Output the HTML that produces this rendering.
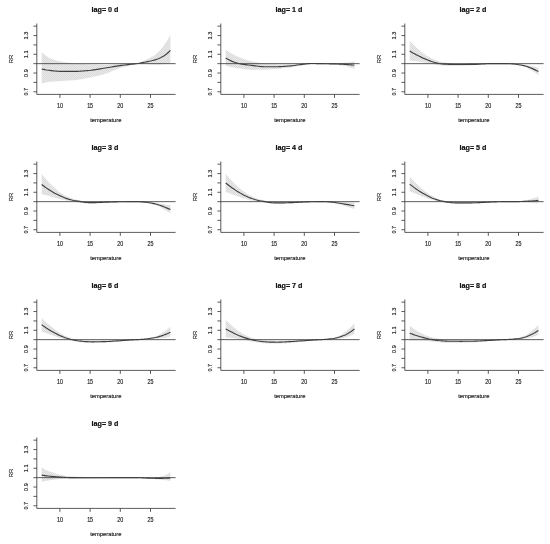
<!DOCTYPE html>
<html><head><meta charset="utf-8"><title>lag-specific RR by temperature</title>
<style>html,body{margin:0;padding:0;background:#fff;}body{width:550px;height:544px;overflow:hidden;font-family:"Liberation Sans",sans-serif;}svg{display:block}</style>
</head><body>
<svg width="550" height="544" viewBox="0 0 550 544" font-family="'Liberation Sans', sans-serif" fill="#1c1c1c">
<rect width="550" height="544" fill="#fff"/>
<defs><pattern id="hatch" width="2" height="2" patternUnits="userSpaceOnUse"><rect width="2" height="2" fill="#e9e9e9"/><rect width="1" height="1" fill="#dadada"/><rect x="1" y="1" width="1" height="1" fill="#dadada"/></pattern></defs>
<g transform="translate(0,0)">
<path d="M41.70,52.00 L43.33,53.55 L44.96,55.01 L46.59,56.30 L48.22,57.35 L49.85,58.13 L51.47,58.81 L53.10,59.43 L54.73,59.98 L56.36,60.48 L57.99,60.91 L59.62,61.29 L61.25,61.62 L62.88,61.90 L64.51,62.16 L66.14,62.39 L67.77,62.60 L69.39,62.79 L71.02,62.96 L72.65,63.12 L74.28,63.27 L75.91,63.41 L77.54,63.55 L79.17,63.68 L80.80,63.80 L82.43,63.91 L84.06,64.01 L85.69,64.10 L87.32,64.19 L88.94,64.27 L90.57,64.36 L92.20,64.44 L93.83,64.53 L95.46,64.61 L97.09,64.68 L98.72,64.75 L100.35,64.80 L101.98,64.85 L103.61,64.88 L105.24,64.90 L106.86,64.89 L108.49,64.86 L110.12,64.80 L111.75,64.71 L113.38,64.62 L115.01,64.52 L116.64,64.42 L118.27,64.33 L119.90,64.25 L121.53,64.17 L123.16,64.09 L124.78,64.01 L126.41,63.93 L128.04,63.87 L129.67,63.81 L131.30,63.77 L132.93,63.74 L134.56,63.72 L136.19,63.68 L137.82,63.53 L139.45,63.01 L141.08,62.20 L142.71,61.29 L144.33,60.43 L145.96,59.68 L147.59,58.92 L149.22,58.13 L150.85,57.28 L152.48,56.38 L154.11,55.42 L155.74,54.36 L157.37,53.11 L159.00,51.55 L160.63,49.62 L162.25,47.47 L163.88,45.22 L165.51,42.89 L167.14,40.38 L168.77,37.71 L170.40,34.90 L170.40,63.30 L168.77,63.49 L167.14,63.68 L165.51,63.85 L163.88,64.00 L162.25,64.16 L160.63,64.33 L159.00,64.46 L157.37,64.50 L155.74,64.46 L154.11,64.37 L152.48,64.27 L150.85,64.19 L149.22,64.14 L147.59,64.09 L145.96,64.05 L144.33,63.99 L142.71,63.91 L141.08,63.81 L139.45,63.72 L137.82,63.66 L136.19,63.68 L134.56,63.98 L132.93,64.47 L131.30,65.01 L129.67,65.49 L128.04,65.90 L126.41,66.31 L124.78,66.73 L123.16,67.16 L121.53,67.61 L119.90,68.09 L118.27,68.61 L116.64,69.22 L115.01,69.90 L113.38,70.61 L111.75,71.34 L110.12,72.05 L108.49,72.72 L106.86,73.32 L105.24,73.83 L103.61,74.30 L101.98,74.75 L100.35,75.18 L98.72,75.59 L97.09,75.98 L95.46,76.36 L93.83,76.72 L92.20,77.06 L90.57,77.40 L88.94,77.72 L87.32,78.04 L85.69,78.35 L84.06,78.66 L82.43,78.96 L80.80,79.24 L79.17,79.51 L77.54,79.75 L75.91,79.96 L74.28,80.13 L72.65,80.27 L71.02,80.40 L69.39,80.51 L67.77,80.62 L66.14,80.72 L64.51,80.82 L62.88,80.92 L61.25,81.03 L59.62,81.13 L57.99,81.23 L56.36,81.32 L54.73,81.42 L53.10,81.52 L51.47,81.65 L49.85,81.80 L48.22,81.99 L46.59,82.27 L44.96,82.63 L43.33,83.05 L41.70,83.50Z" fill="url(#hatch)" stroke="none"/>
<path d="M36.8,23.5 V94.4 H175.6" fill="none" stroke="#333" stroke-width="0.8"/>
<path d="M36.8,91.76 h-3.4 M36.8,82.39 h-3.4 M36.8,73.02 h-3.4 M36.8,63.65 h-3.4 M36.8,54.28 h-3.4 M36.8,44.91 h-3.4 M36.8,35.54 h-3.4 M36.8,26.17 h-3.4 M59.9,94.4 v3.5 M90.1,94.4 v3.5 M120.3,94.4 v3.5 M150.5,94.4 v3.5" fill="none" stroke="#333" stroke-width="0.8"/>
<path d="M36.8,63.65 H175.6" fill="none" stroke="#333" stroke-width="0.8"/>
<path d="M41.70,69.00 L43.33,69.34 L44.96,69.67 L46.59,69.96 L48.22,70.21 L49.85,70.41 L51.47,70.61 L53.10,70.81 L54.73,70.99 L56.36,71.14 L57.99,71.27 L59.62,71.36 L61.25,71.40 L62.88,71.40 L64.51,71.40 L66.14,71.40 L67.77,71.40 L69.39,71.40 L71.02,71.40 L72.65,71.40 L74.28,71.40 L75.91,71.39 L77.54,71.34 L79.17,71.26 L80.80,71.15 L82.43,71.03 L84.06,70.90 L85.69,70.76 L87.32,70.62 L88.94,70.46 L90.57,70.29 L92.20,70.08 L93.83,69.85 L95.46,69.61 L97.09,69.36 L98.72,69.09 L100.35,68.82 L101.98,68.55 L103.61,68.28 L105.24,68.02 L106.86,67.76 L108.49,67.50 L110.12,67.23 L111.75,66.95 L113.38,66.67 L115.01,66.40 L116.64,66.14 L118.27,65.89 L119.90,65.66 L121.53,65.44 L123.16,65.23 L124.78,65.02 L126.41,64.82 L128.04,64.63 L129.67,64.44 L131.30,64.26 L132.93,64.09 L134.56,63.93 L136.19,63.74 L137.82,63.51 L139.45,63.23 L141.08,62.92 L142.71,62.58 L144.33,62.25 L145.96,61.94 L147.59,61.63 L149.22,61.30 L150.85,60.94 L152.48,60.53 L154.11,60.09 L155.74,59.60 L157.37,59.05 L159.00,58.42 L160.63,57.69 L162.25,56.85 L163.88,55.91 L165.51,54.80 L167.14,53.49 L168.77,52.02 L170.40,50.40" fill="none" stroke="#404040" stroke-width="1.15"/>
<text transform="translate(59.9,107.8) scale(0.92,1.1)" font-size="5.8" text-anchor="middle" stroke="#1c1c1c" stroke-width="0.15">10</text>
<text transform="translate(90.1,107.8) scale(0.92,1.1)" font-size="5.8" text-anchor="middle" stroke="#1c1c1c" stroke-width="0.15">15</text>
<text transform="translate(120.3,107.8) scale(0.92,1.1)" font-size="5.8" text-anchor="middle" stroke="#1c1c1c" stroke-width="0.15">20</text>
<text transform="translate(150.5,107.8) scale(0.92,1.1)" font-size="5.8" text-anchor="middle" stroke="#1c1c1c" stroke-width="0.15">25</text>
<text transform="translate(28.0,91.76) rotate(-90) scale(0.96,1.0)" font-size="5.8" text-anchor="middle" stroke="#1c1c1c" stroke-width="0.15">0.7</text>
<text transform="translate(28.0,73.02) rotate(-90) scale(0.96,1.0)" font-size="5.8" text-anchor="middle" stroke="#1c1c1c" stroke-width="0.15">0.9</text>
<text transform="translate(28.0,54.28) rotate(-90) scale(0.96,1.0)" font-size="5.8" text-anchor="middle" stroke="#1c1c1c" stroke-width="0.15">1.1</text>
<text transform="translate(28.0,35.54) rotate(-90) scale(0.96,1.0)" font-size="5.8" text-anchor="middle" stroke="#1c1c1c" stroke-width="0.15">1.3</text>
<text transform="translate(13.4,59.0) rotate(-90) scale(1,1.0)" font-size="5.8" text-anchor="middle" stroke="#1c1c1c" stroke-width="0.15">RR</text>
<text transform="translate(105.8,122.0) scale(1,1.0)" font-size="5.8" text-anchor="middle" stroke="#1c1c1c" stroke-width="0.15">temperature</text>
<text transform="translate(105,11.6) scale(1,1.05)" font-size="7.2" font-weight="bold" text-anchor="middle" fill="#111" stroke="#111" stroke-width="0.2">lag= 0 d</text>
</g>
<g transform="translate(184,0)">
<path d="M41.70,49.70 L43.33,50.80 L44.96,51.86 L46.59,52.88 L48.22,53.84 L49.85,54.75 L51.47,55.59 L53.10,56.38 L54.73,57.09 L56.36,57.74 L57.99,58.36 L59.62,58.94 L61.25,59.49 L62.88,60.00 L64.51,60.47 L66.14,60.90 L67.77,61.29 L69.39,61.66 L71.02,62.02 L72.65,62.36 L74.28,62.68 L75.91,62.97 L77.54,63.22 L79.17,63.44 L80.80,63.61 L82.43,63.76 L84.06,63.89 L85.69,64.02 L87.32,64.14 L88.94,64.23 L90.57,64.31 L92.20,64.37 L93.83,64.40 L95.46,64.43 L97.09,64.45 L98.72,64.46 L100.35,64.48 L101.98,64.49 L103.61,64.50 L105.24,64.50 L106.86,64.49 L108.49,64.46 L110.12,64.41 L111.75,64.34 L113.38,64.26 L115.01,64.17 L116.64,64.08 L118.27,63.98 L119.90,63.86 L121.53,63.69 L123.16,63.52 L124.78,63.36 L126.41,63.24 L128.04,63.20 L129.67,63.24 L131.30,63.34 L132.93,63.46 L134.56,63.57 L136.19,63.64 L137.82,63.65 L139.45,63.62 L141.08,63.58 L142.71,63.52 L144.33,63.45 L145.96,63.37 L147.59,63.30 L149.22,63.23 L150.85,63.17 L152.48,63.12 L154.11,63.06 L155.74,63.00 L157.37,62.94 L159.00,62.86 L160.63,62.76 L162.25,62.61 L163.88,62.41 L165.51,62.18 L167.14,61.91 L168.77,61.61 L170.40,61.30 L170.40,69.00 L168.77,68.36 L167.14,67.76 L165.51,67.20 L163.88,66.70 L162.25,66.27 L160.63,65.91 L159.00,65.63 L157.37,65.40 L155.74,65.19 L154.11,65.00 L152.48,64.83 L150.85,64.68 L149.22,64.53 L147.59,64.37 L145.96,64.21 L144.33,64.05 L142.71,63.91 L141.08,63.79 L139.45,63.70 L137.82,63.66 L136.19,63.65 L134.56,63.67 L132.93,63.71 L131.30,63.76 L129.67,63.83 L128.04,63.90 L126.41,64.01 L124.78,64.18 L123.16,64.39 L121.53,64.64 L119.90,64.90 L118.27,65.16 L116.64,65.43 L115.01,65.75 L113.38,66.10 L111.75,66.46 L110.12,66.81 L108.49,67.14 L106.86,67.43 L105.24,67.66 L103.61,67.86 L101.98,68.04 L100.35,68.21 L98.72,68.36 L97.09,68.51 L95.46,68.65 L93.83,68.78 L92.20,68.92 L90.57,69.07 L88.94,69.22 L87.32,69.37 L85.69,69.50 L84.06,69.60 L82.43,69.67 L80.80,69.70 L79.17,69.70 L77.54,69.70 L75.91,69.70 L74.28,69.70 L72.65,69.70 L71.02,69.70 L69.39,69.70 L67.77,69.70 L66.14,69.66 L64.51,69.57 L62.88,69.43 L61.25,69.25 L59.62,69.04 L57.99,68.81 L56.36,68.59 L54.73,68.36 L53.10,68.13 L51.47,67.86 L49.85,67.57 L48.22,67.26 L46.59,66.92 L44.96,66.56 L43.33,66.19 L41.70,65.80Z" fill="url(#hatch)" stroke="none"/>
<path d="M36.8,23.5 V94.4 H175.6" fill="none" stroke="#333" stroke-width="0.8"/>
<path d="M36.8,91.76 h-3.4 M36.8,82.39 h-3.4 M36.8,73.02 h-3.4 M36.8,63.65 h-3.4 M36.8,54.28 h-3.4 M36.8,44.91 h-3.4 M36.8,35.54 h-3.4 M36.8,26.17 h-3.4 M59.9,94.4 v3.5 M90.1,94.4 v3.5 M120.3,94.4 v3.5 M150.5,94.4 v3.5" fill="none" stroke="#333" stroke-width="0.8"/>
<path d="M36.8,63.65 H175.6" fill="none" stroke="#333" stroke-width="0.8"/>
<path d="M41.70,58.10 L43.33,58.98 L44.96,59.83 L46.59,60.63 L48.22,61.36 L49.85,62.03 L51.47,62.63 L53.10,63.13 L54.73,63.54 L56.36,63.87 L57.99,64.15 L59.62,64.40 L61.25,64.63 L62.88,64.83 L64.51,65.02 L66.14,65.21 L67.77,65.40 L69.39,65.60 L71.02,65.82 L72.65,66.04 L74.28,66.24 L75.91,66.43 L77.54,66.57 L79.17,66.67 L80.80,66.70 L82.43,66.70 L84.06,66.70 L85.69,66.70 L87.32,66.70 L88.94,66.70 L90.57,66.70 L92.20,66.70 L93.83,66.70 L95.46,66.67 L97.09,66.62 L98.72,66.53 L100.35,66.42 L101.98,66.30 L103.61,66.17 L105.24,66.04 L106.86,65.89 L108.49,65.71 L110.12,65.49 L111.75,65.25 L113.38,65.01 L115.01,64.77 L116.64,64.56 L118.27,64.37 L119.90,64.18 L121.53,63.99 L123.16,63.80 L124.78,63.65 L126.41,63.54 L128.04,63.50 L129.67,63.51 L131.30,63.53 L132.93,63.56 L134.56,63.60 L136.19,63.63 L137.82,63.66 L139.45,63.69 L141.08,63.72 L142.71,63.75 L144.33,63.78 L145.96,63.81 L147.59,63.84 L149.22,63.88 L150.85,63.92 L152.48,63.97 L154.11,64.03 L155.74,64.09 L157.37,64.17 L159.00,64.25 L160.63,64.34 L162.25,64.44 L163.88,64.57 L165.51,64.71 L167.14,64.86 L168.77,65.02 L170.40,65.20" fill="none" stroke="#404040" stroke-width="1.15"/>
<text transform="translate(59.9,107.8) scale(0.92,1.1)" font-size="5.8" text-anchor="middle" stroke="#1c1c1c" stroke-width="0.15">10</text>
<text transform="translate(90.1,107.8) scale(0.92,1.1)" font-size="5.8" text-anchor="middle" stroke="#1c1c1c" stroke-width="0.15">15</text>
<text transform="translate(120.3,107.8) scale(0.92,1.1)" font-size="5.8" text-anchor="middle" stroke="#1c1c1c" stroke-width="0.15">20</text>
<text transform="translate(150.5,107.8) scale(0.92,1.1)" font-size="5.8" text-anchor="middle" stroke="#1c1c1c" stroke-width="0.15">25</text>
<text transform="translate(28.0,91.76) rotate(-90) scale(0.96,1.0)" font-size="5.8" text-anchor="middle" stroke="#1c1c1c" stroke-width="0.15">0.7</text>
<text transform="translate(28.0,73.02) rotate(-90) scale(0.96,1.0)" font-size="5.8" text-anchor="middle" stroke="#1c1c1c" stroke-width="0.15">0.9</text>
<text transform="translate(28.0,54.28) rotate(-90) scale(0.96,1.0)" font-size="5.8" text-anchor="middle" stroke="#1c1c1c" stroke-width="0.15">1.1</text>
<text transform="translate(28.0,35.54) rotate(-90) scale(0.96,1.0)" font-size="5.8" text-anchor="middle" stroke="#1c1c1c" stroke-width="0.15">1.3</text>
<text transform="translate(13.4,59.0) rotate(-90) scale(1,1.0)" font-size="5.8" text-anchor="middle" stroke="#1c1c1c" stroke-width="0.15">RR</text>
<text transform="translate(105.8,122.0) scale(1,1.0)" font-size="5.8" text-anchor="middle" stroke="#1c1c1c" stroke-width="0.15">temperature</text>
<text transform="translate(105,11.6) scale(1,1.05)" font-size="7.2" font-weight="bold" text-anchor="middle" fill="#111" stroke="#111" stroke-width="0.2">lag= 1 d</text>
</g>
<g transform="translate(368,0)">
<path d="M41.70,40.70 L43.33,42.39 L44.96,44.04 L46.59,45.65 L48.22,47.20 L49.85,48.74 L51.47,50.24 L53.10,51.65 L54.73,52.92 L56.36,54.09 L57.99,55.17 L59.62,56.18 L61.25,57.11 L62.88,57.99 L64.51,58.82 L66.14,59.57 L67.77,60.22 L69.39,60.82 L71.02,61.37 L72.65,61.81 L74.28,62.11 L75.91,62.38 L77.54,62.62 L79.17,62.84 L80.80,63.02 L82.43,63.18 L84.06,63.30 L85.69,63.38 L87.32,63.42 L88.94,63.45 L90.57,63.48 L92.20,63.50 L93.83,63.52 L95.46,63.54 L97.09,63.56 L98.72,63.58 L100.35,63.59 L101.98,63.59 L103.61,63.60 L105.24,63.60 L106.86,63.59 L108.49,63.57 L110.12,63.55 L111.75,63.51 L113.38,63.48 L115.01,63.44 L116.64,63.40 L118.27,63.37 L119.90,63.34 L121.53,63.31 L123.16,63.30 L124.78,63.30 L126.41,63.33 L128.04,63.38 L129.67,63.44 L131.30,63.51 L132.93,63.57 L134.56,63.62 L136.19,63.65 L137.82,63.64 L139.45,63.60 L141.08,63.55 L142.71,63.51 L144.33,63.51 L145.96,63.60 L147.59,63.75 L149.22,63.92 L150.85,64.08 L152.48,64.26 L154.11,64.47 L155.74,64.69 L157.37,64.94 L159.00,65.23 L160.63,65.55 L162.25,65.87 L163.88,66.19 L165.51,66.51 L167.14,66.84 L168.77,67.17 L170.40,67.50 L170.40,75.20 L168.77,73.93 L167.14,72.74 L165.51,71.62 L163.88,70.58 L162.25,69.63 L160.63,68.70 L159.00,67.84 L157.37,67.12 L155.74,66.56 L154.11,66.11 L152.48,65.72 L150.85,65.37 L149.22,65.04 L147.59,64.72 L145.96,64.42 L144.33,64.18 L142.71,64.01 L141.08,63.86 L139.45,63.73 L137.82,63.66 L136.19,63.65 L134.56,63.66 L132.93,63.68 L131.30,63.71 L129.67,63.75 L128.04,63.79 L126.41,63.83 L124.78,63.88 L123.16,63.93 L121.53,64.00 L119.90,64.10 L118.27,64.21 L116.64,64.34 L115.01,64.47 L113.38,64.61 L111.75,64.75 L110.12,64.88 L108.49,65.00 L106.86,65.10 L105.24,65.19 L103.61,65.26 L101.98,65.34 L100.35,65.41 L98.72,65.48 L97.09,65.55 L95.46,65.61 L93.83,65.67 L92.20,65.72 L90.57,65.76 L88.94,65.78 L87.32,65.80 L85.69,65.80 L84.06,65.79 L82.43,65.77 L80.80,65.74 L79.17,65.70 L77.54,65.65 L75.91,65.59 L74.28,65.53 L72.65,65.43 L71.02,65.22 L69.39,64.93 L67.77,64.61 L66.14,64.28 L64.51,63.87 L62.88,63.46 L61.25,63.10 L59.62,62.84 L57.99,62.63 L56.36,62.45 L54.73,62.26 L53.10,62.03 L51.47,61.79 L49.85,61.55 L48.22,61.34 L46.59,61.15 L44.96,60.99 L43.33,60.83 L41.70,60.70Z" fill="url(#hatch)" stroke="none"/>
<path d="M36.8,23.5 V94.4 H175.6" fill="none" stroke="#333" stroke-width="0.8"/>
<path d="M36.8,91.76 h-3.4 M36.8,82.39 h-3.4 M36.8,73.02 h-3.4 M36.8,63.65 h-3.4 M36.8,54.28 h-3.4 M36.8,44.91 h-3.4 M36.8,35.54 h-3.4 M36.8,26.17 h-3.4 M59.9,94.4 v3.5 M90.1,94.4 v3.5 M120.3,94.4 v3.5 M150.5,94.4 v3.5" fill="none" stroke="#333" stroke-width="0.8"/>
<path d="M36.8,63.65 H175.6" fill="none" stroke="#333" stroke-width="0.8"/>
<path d="M41.70,51.00 L43.33,51.96 L44.96,52.89 L46.59,53.79 L48.22,54.67 L49.85,55.52 L51.47,56.35 L53.10,57.14 L54.73,57.90 L56.36,58.62 L57.99,59.32 L59.62,59.98 L61.25,60.61 L62.88,61.21 L64.51,61.79 L66.14,62.31 L67.77,62.74 L69.39,63.15 L71.02,63.52 L72.65,63.80 L74.28,63.95 L75.91,64.08 L77.54,64.19 L79.17,64.29 L80.80,64.37 L82.43,64.43 L84.06,64.47 L85.69,64.50 L87.32,64.50 L88.94,64.50 L90.57,64.49 L92.20,64.49 L93.83,64.48 L95.46,64.47 L97.09,64.46 L98.72,64.45 L100.35,64.44 L101.98,64.43 L103.61,64.41 L105.24,64.40 L106.86,64.36 L108.49,64.31 L110.12,64.23 L111.75,64.14 L113.38,64.05 L115.01,63.95 L116.64,63.85 L118.27,63.76 L119.90,63.69 L121.53,63.63 L123.16,63.60 L124.78,63.60 L126.41,63.60 L128.04,63.61 L129.67,63.61 L131.30,63.62 L132.93,63.62 L134.56,63.63 L136.19,63.64 L137.82,63.66 L139.45,63.68 L141.08,63.72 L142.71,63.77 L144.33,63.84 L145.96,64.00 L147.59,64.23 L149.22,64.48 L150.85,64.73 L152.48,64.99 L154.11,65.29 L155.74,65.62 L157.37,66.03 L159.00,66.53 L160.63,67.11 L162.25,67.74 L163.88,68.40 L165.51,69.12 L167.14,69.89 L168.77,70.72 L170.40,71.60" fill="none" stroke="#404040" stroke-width="1.15"/>
<text transform="translate(59.9,107.8) scale(0.92,1.1)" font-size="5.8" text-anchor="middle" stroke="#1c1c1c" stroke-width="0.15">10</text>
<text transform="translate(90.1,107.8) scale(0.92,1.1)" font-size="5.8" text-anchor="middle" stroke="#1c1c1c" stroke-width="0.15">15</text>
<text transform="translate(120.3,107.8) scale(0.92,1.1)" font-size="5.8" text-anchor="middle" stroke="#1c1c1c" stroke-width="0.15">20</text>
<text transform="translate(150.5,107.8) scale(0.92,1.1)" font-size="5.8" text-anchor="middle" stroke="#1c1c1c" stroke-width="0.15">25</text>
<text transform="translate(28.0,91.76) rotate(-90) scale(0.96,1.0)" font-size="5.8" text-anchor="middle" stroke="#1c1c1c" stroke-width="0.15">0.7</text>
<text transform="translate(28.0,73.02) rotate(-90) scale(0.96,1.0)" font-size="5.8" text-anchor="middle" stroke="#1c1c1c" stroke-width="0.15">0.9</text>
<text transform="translate(28.0,54.28) rotate(-90) scale(0.96,1.0)" font-size="5.8" text-anchor="middle" stroke="#1c1c1c" stroke-width="0.15">1.1</text>
<text transform="translate(28.0,35.54) rotate(-90) scale(0.96,1.0)" font-size="5.8" text-anchor="middle" stroke="#1c1c1c" stroke-width="0.15">1.3</text>
<text transform="translate(13.4,59.0) rotate(-90) scale(1,1.0)" font-size="5.8" text-anchor="middle" stroke="#1c1c1c" stroke-width="0.15">RR</text>
<text transform="translate(105.8,122.0) scale(1,1.0)" font-size="5.8" text-anchor="middle" stroke="#1c1c1c" stroke-width="0.15">temperature</text>
<text transform="translate(105,11.6) scale(1,1.05)" font-size="7.2" font-weight="bold" text-anchor="middle" fill="#111" stroke="#111" stroke-width="0.2">lag= 2 d</text>
</g>
<g transform="translate(0,138)">
<path d="M41.70,35.80 L43.33,37.90 L44.96,39.91 L46.59,41.83 L48.22,43.65 L49.85,45.38 L51.47,47.03 L53.10,48.60 L54.73,50.09 L56.36,51.52 L57.99,52.89 L59.62,54.15 L61.25,55.26 L62.88,56.26 L64.51,57.18 L66.14,58.01 L67.77,58.75 L69.39,59.43 L71.02,60.05 L72.65,60.61 L74.28,61.10 L75.91,61.56 L77.54,61.98 L79.17,62.34 L80.80,62.64 L82.43,62.92 L84.06,63.17 L85.69,63.35 L87.32,63.44 L88.94,63.51 L90.57,63.57 L92.20,63.60 L93.83,63.60 L95.46,63.59 L97.09,63.58 L98.72,63.56 L100.35,63.54 L101.98,63.53 L103.61,63.51 L105.24,63.50 L106.86,63.49 L108.49,63.48 L110.12,63.46 L111.75,63.45 L113.38,63.44 L115.01,63.43 L116.64,63.42 L118.27,63.41 L119.90,63.41 L121.53,63.40 L123.16,63.40 L124.78,63.40 L126.41,63.42 L128.04,63.46 L129.67,63.50 L131.30,63.55 L132.93,63.59 L134.56,63.63 L136.19,63.65 L137.82,63.65 L139.45,63.63 L141.08,63.62 L142.71,63.60 L144.33,63.61 L145.96,63.73 L147.59,63.91 L149.22,64.11 L150.85,64.29 L152.48,64.47 L154.11,64.67 L155.74,64.89 L157.37,65.14 L159.00,65.46 L160.63,65.79 L162.25,66.10 L163.88,66.34 L165.51,66.57 L167.14,66.77 L168.77,66.95 L170.40,67.10 L170.40,75.50 L168.77,74.33 L167.14,73.21 L165.51,72.16 L163.88,71.17 L162.25,70.24 L160.63,69.33 L159.00,68.48 L157.37,67.73 L155.74,67.14 L154.11,66.63 L152.48,66.19 L150.85,65.79 L149.22,65.43 L147.59,65.09 L145.96,64.78 L144.33,64.51 L142.71,64.27 L141.08,64.02 L139.45,63.80 L137.82,63.67 L136.19,63.65 L134.56,63.66 L132.93,63.68 L131.30,63.71 L129.67,63.75 L128.04,63.79 L126.41,63.83 L124.78,63.88 L123.16,63.92 L121.53,63.98 L119.90,64.05 L118.27,64.13 L116.64,64.21 L115.01,64.30 L113.38,64.40 L111.75,64.50 L110.12,64.60 L108.49,64.70 L106.86,64.79 L105.24,64.89 L103.61,64.99 L101.98,65.10 L100.35,65.23 L98.72,65.35 L97.09,65.46 L95.46,65.54 L93.83,65.59 L92.20,65.60 L90.57,65.60 L88.94,65.60 L87.32,65.60 L85.69,65.57 L84.06,65.37 L82.43,65.06 L80.80,64.74 L79.17,64.47 L77.54,64.22 L75.91,63.96 L74.28,63.71 L72.65,63.45 L71.02,63.21 L69.39,62.96 L67.77,62.70 L66.14,62.41 L64.51,62.10 L62.88,61.77 L61.25,61.42 L59.62,61.04 L57.99,60.62 L56.36,60.18 L54.73,59.72 L53.10,59.25 L51.47,58.75 L49.85,58.26 L48.22,57.79 L46.59,57.36 L44.96,56.95 L43.33,56.56 L41.70,56.20Z" fill="url(#hatch)" stroke="none"/>
<path d="M36.8,23.5 V94.4 H175.6" fill="none" stroke="#333" stroke-width="0.8"/>
<path d="M36.8,91.76 h-3.4 M36.8,82.39 h-3.4 M36.8,73.02 h-3.4 M36.8,63.65 h-3.4 M36.8,54.28 h-3.4 M36.8,44.91 h-3.4 M36.8,35.54 h-3.4 M36.8,26.17 h-3.4 M59.9,94.4 v3.5 M90.1,94.4 v3.5 M120.3,94.4 v3.5 M150.5,94.4 v3.5" fill="none" stroke="#333" stroke-width="0.8"/>
<path d="M36.8,63.65 H175.6" fill="none" stroke="#333" stroke-width="0.8"/>
<path d="M41.70,46.50 L43.33,47.75 L44.96,48.96 L46.59,50.11 L48.22,51.21 L49.85,52.26 L51.47,53.27 L53.10,54.23 L54.73,55.14 L56.36,56.00 L57.99,56.83 L59.62,57.61 L61.25,58.34 L62.88,59.05 L64.51,59.73 L66.14,60.34 L67.77,60.88 L69.39,61.36 L71.02,61.80 L72.65,62.19 L74.28,62.54 L75.91,62.84 L77.54,63.11 L79.17,63.37 L80.80,63.64 L82.43,63.95 L84.06,64.25 L85.69,64.45 L87.32,64.52 L88.94,64.56 L90.57,64.59 L92.20,64.60 L93.83,64.60 L95.46,64.57 L97.09,64.52 L98.72,64.45 L100.35,64.38 L101.98,64.31 L103.61,64.25 L105.24,64.19 L106.86,64.14 L108.49,64.09 L110.12,64.04 L111.75,63.98 L113.38,63.93 L115.01,63.88 L116.64,63.83 L118.27,63.79 L119.90,63.76 L121.53,63.73 L123.16,63.71 L124.78,63.70 L126.41,63.69 L128.04,63.68 L129.67,63.67 L131.30,63.66 L132.93,63.66 L134.56,63.65 L136.19,63.65 L137.82,63.66 L139.45,63.71 L141.08,63.81 L142.71,63.93 L144.33,64.06 L145.96,64.26 L147.59,64.50 L149.22,64.77 L150.85,65.04 L152.48,65.33 L154.11,65.65 L155.74,66.01 L157.37,66.44 L159.00,66.95 L160.63,67.54 L162.25,68.15 L163.88,68.78 L165.51,69.44 L167.14,70.13 L168.77,70.85 L170.40,71.60" fill="none" stroke="#404040" stroke-width="1.15"/>
<text transform="translate(59.9,107.8) scale(0.92,1.1)" font-size="5.8" text-anchor="middle" stroke="#1c1c1c" stroke-width="0.15">10</text>
<text transform="translate(90.1,107.8) scale(0.92,1.1)" font-size="5.8" text-anchor="middle" stroke="#1c1c1c" stroke-width="0.15">15</text>
<text transform="translate(120.3,107.8) scale(0.92,1.1)" font-size="5.8" text-anchor="middle" stroke="#1c1c1c" stroke-width="0.15">20</text>
<text transform="translate(150.5,107.8) scale(0.92,1.1)" font-size="5.8" text-anchor="middle" stroke="#1c1c1c" stroke-width="0.15">25</text>
<text transform="translate(28.0,91.76) rotate(-90) scale(0.96,1.0)" font-size="5.8" text-anchor="middle" stroke="#1c1c1c" stroke-width="0.15">0.7</text>
<text transform="translate(28.0,73.02) rotate(-90) scale(0.96,1.0)" font-size="5.8" text-anchor="middle" stroke="#1c1c1c" stroke-width="0.15">0.9</text>
<text transform="translate(28.0,54.28) rotate(-90) scale(0.96,1.0)" font-size="5.8" text-anchor="middle" stroke="#1c1c1c" stroke-width="0.15">1.1</text>
<text transform="translate(28.0,35.54) rotate(-90) scale(0.96,1.0)" font-size="5.8" text-anchor="middle" stroke="#1c1c1c" stroke-width="0.15">1.3</text>
<text transform="translate(13.4,59.0) rotate(-90) scale(1,1.0)" font-size="5.8" text-anchor="middle" stroke="#1c1c1c" stroke-width="0.15">RR</text>
<text transform="translate(105.8,122.0) scale(1,1.0)" font-size="5.8" text-anchor="middle" stroke="#1c1c1c" stroke-width="0.15">temperature</text>
<text transform="translate(105,11.6) scale(1,1.05)" font-size="7.2" font-weight="bold" text-anchor="middle" fill="#111" stroke="#111" stroke-width="0.2">lag= 3 d</text>
</g>
<g transform="translate(184,138)">
<path d="M41.70,35.80 L43.33,37.82 L44.96,39.75 L46.59,41.59 L48.22,43.33 L49.85,44.98 L51.47,46.55 L53.10,48.04 L54.73,49.47 L56.36,50.86 L57.99,52.19 L59.62,53.43 L61.25,54.57 L62.88,55.64 L64.51,56.65 L66.14,57.56 L67.77,58.37 L69.39,59.11 L71.02,59.78 L72.65,60.38 L74.28,60.91 L75.91,61.39 L77.54,61.82 L79.17,62.21 L80.80,62.58 L82.43,62.95 L84.06,63.29 L85.69,63.53 L87.32,63.65 L88.94,63.74 L90.57,63.81 L92.20,63.86 L93.83,63.89 L95.46,63.90 L97.09,63.90 L98.72,63.90 L100.35,63.90 L101.98,63.90 L103.61,63.90 L105.24,63.90 L106.86,63.89 L108.49,63.86 L110.12,63.82 L111.75,63.78 L113.38,63.74 L115.01,63.70 L116.64,63.66 L118.27,63.61 L119.90,63.57 L121.53,63.53 L123.16,63.50 L124.78,63.50 L126.41,63.51 L128.04,63.53 L129.67,63.56 L131.30,63.59 L132.93,63.62 L134.56,63.64 L136.19,63.65 L137.82,63.65 L139.45,63.62 L141.08,63.57 L142.71,63.53 L144.33,63.50 L145.96,63.51 L147.59,63.54 L149.22,63.61 L150.85,63.69 L152.48,63.78 L154.11,63.88 L155.74,63.96 L157.37,64.04 L159.00,64.12 L160.63,64.20 L162.25,64.27 L163.88,64.33 L165.51,64.38 L167.14,64.43 L168.77,64.47 L170.40,64.50 L170.40,71.00 L168.77,70.48 L167.14,69.97 L165.51,69.46 L163.88,68.97 L162.25,68.47 L160.63,67.98 L159.00,67.49 L157.37,67.03 L155.74,66.61 L154.11,66.19 L152.48,65.77 L150.85,65.38 L149.22,65.01 L147.59,64.69 L145.96,64.42 L144.33,64.22 L142.71,64.04 L141.08,63.87 L139.45,63.74 L137.82,63.66 L136.19,63.65 L134.56,63.67 L132.93,63.71 L131.30,63.76 L129.67,63.83 L128.04,63.90 L126.41,63.98 L124.78,64.06 L123.16,64.15 L121.53,64.28 L119.90,64.44 L118.27,64.60 L116.64,64.76 L115.01,64.90 L113.38,65.01 L111.75,65.12 L110.12,65.22 L108.49,65.32 L106.86,65.41 L105.24,65.49 L103.61,65.57 L101.98,65.66 L100.35,65.74 L98.72,65.82 L97.09,65.87 L95.46,65.90 L93.83,65.89 L92.20,65.86 L90.57,65.81 L88.94,65.74 L87.32,65.65 L85.69,65.53 L84.06,65.26 L82.43,64.90 L80.80,64.55 L79.17,64.26 L77.54,64.00 L75.91,63.75 L74.28,63.51 L72.65,63.26 L71.02,63.02 L69.39,62.78 L67.77,62.51 L66.14,62.18 L64.51,61.78 L62.88,61.34 L61.25,60.86 L59.62,60.36 L57.99,59.82 L56.36,59.24 L54.73,58.65 L53.10,58.08 L51.47,57.50 L49.85,56.91 L48.22,56.32 L46.59,55.72 L44.96,55.12 L43.33,54.51 L41.70,53.90Z" fill="url(#hatch)" stroke="none"/>
<path d="M36.8,23.5 V94.4 H175.6" fill="none" stroke="#333" stroke-width="0.8"/>
<path d="M36.8,91.76 h-3.4 M36.8,82.39 h-3.4 M36.8,73.02 h-3.4 M36.8,63.65 h-3.4 M36.8,54.28 h-3.4 M36.8,44.91 h-3.4 M36.8,35.54 h-3.4 M36.8,26.17 h-3.4 M59.9,94.4 v3.5 M90.1,94.4 v3.5 M120.3,94.4 v3.5 M150.5,94.4 v3.5" fill="none" stroke="#333" stroke-width="0.8"/>
<path d="M36.8,63.65 H175.6" fill="none" stroke="#333" stroke-width="0.8"/>
<path d="M41.70,45.00 L43.33,46.30 L44.96,47.55 L46.59,48.76 L48.22,49.92 L49.85,51.04 L51.47,52.12 L53.10,53.16 L54.73,54.16 L56.36,55.13 L57.99,56.07 L59.62,56.95 L61.25,57.77 L62.88,58.53 L64.51,59.25 L66.14,59.91 L67.77,60.50 L69.39,61.03 L71.02,61.52 L72.65,61.96 L74.28,62.36 L75.91,62.72 L77.54,63.04 L79.17,63.35 L80.80,63.65 L82.43,63.99 L84.06,64.30 L85.69,64.53 L87.32,64.65 L88.94,64.73 L90.57,64.81 L92.20,64.86 L93.83,64.89 L95.46,64.90 L97.09,64.89 L98.72,64.86 L100.35,64.83 L101.98,64.78 L103.61,64.74 L105.24,64.69 L106.86,64.64 L108.49,64.58 L110.12,64.52 L111.75,64.45 L113.38,64.37 L115.01,64.30 L116.64,64.22 L118.27,64.12 L119.90,64.03 L121.53,63.94 L123.16,63.87 L124.78,63.83 L126.41,63.79 L128.04,63.76 L129.67,63.73 L131.30,63.70 L132.93,63.68 L134.56,63.66 L136.19,63.65 L137.82,63.65 L139.45,63.68 L141.08,63.73 L142.71,63.79 L144.33,63.87 L145.96,63.96 L147.59,64.10 L149.22,64.29 L150.85,64.52 L152.48,64.77 L154.11,65.03 L155.74,65.28 L157.37,65.53 L159.00,65.80 L160.63,66.08 L162.25,66.37 L163.88,66.65 L165.51,66.94 L167.14,67.22 L168.77,67.51 L170.40,67.80" fill="none" stroke="#404040" stroke-width="1.15"/>
<text transform="translate(59.9,107.8) scale(0.92,1.1)" font-size="5.8" text-anchor="middle" stroke="#1c1c1c" stroke-width="0.15">10</text>
<text transform="translate(90.1,107.8) scale(0.92,1.1)" font-size="5.8" text-anchor="middle" stroke="#1c1c1c" stroke-width="0.15">15</text>
<text transform="translate(120.3,107.8) scale(0.92,1.1)" font-size="5.8" text-anchor="middle" stroke="#1c1c1c" stroke-width="0.15">20</text>
<text transform="translate(150.5,107.8) scale(0.92,1.1)" font-size="5.8" text-anchor="middle" stroke="#1c1c1c" stroke-width="0.15">25</text>
<text transform="translate(28.0,91.76) rotate(-90) scale(0.96,1.0)" font-size="5.8" text-anchor="middle" stroke="#1c1c1c" stroke-width="0.15">0.7</text>
<text transform="translate(28.0,73.02) rotate(-90) scale(0.96,1.0)" font-size="5.8" text-anchor="middle" stroke="#1c1c1c" stroke-width="0.15">0.9</text>
<text transform="translate(28.0,54.28) rotate(-90) scale(0.96,1.0)" font-size="5.8" text-anchor="middle" stroke="#1c1c1c" stroke-width="0.15">1.1</text>
<text transform="translate(28.0,35.54) rotate(-90) scale(0.96,1.0)" font-size="5.8" text-anchor="middle" stroke="#1c1c1c" stroke-width="0.15">1.3</text>
<text transform="translate(13.4,59.0) rotate(-90) scale(1,1.0)" font-size="5.8" text-anchor="middle" stroke="#1c1c1c" stroke-width="0.15">RR</text>
<text transform="translate(105.8,122.0) scale(1,1.0)" font-size="5.8" text-anchor="middle" stroke="#1c1c1c" stroke-width="0.15">temperature</text>
<text transform="translate(105,11.6) scale(1,1.05)" font-size="7.2" font-weight="bold" text-anchor="middle" fill="#111" stroke="#111" stroke-width="0.2">lag= 4 d</text>
</g>
<g transform="translate(368,138)">
<path d="M41.70,38.80 L43.33,40.56 L44.96,42.26 L46.59,43.91 L48.22,45.50 L49.85,47.05 L51.47,48.56 L53.10,49.99 L54.73,51.35 L56.36,52.66 L57.99,53.92 L59.62,55.08 L61.25,56.15 L62.88,57.13 L64.51,58.04 L66.14,58.89 L67.77,59.67 L69.39,60.42 L71.02,61.13 L72.65,61.73 L74.28,62.17 L75.91,62.53 L77.54,62.84 L79.17,63.09 L80.80,63.30 L82.43,63.48 L84.06,63.64 L85.69,63.76 L87.32,63.83 L88.94,63.89 L90.57,63.94 L92.20,63.97 L93.83,64.00 L95.46,64.00 L97.09,64.00 L98.72,64.00 L100.35,64.00 L101.98,64.00 L103.61,64.00 L105.24,64.00 L106.86,63.99 L108.49,63.97 L110.12,63.94 L111.75,63.91 L113.38,63.87 L115.01,63.82 L116.64,63.78 L118.27,63.74 L119.90,63.70 L121.53,63.67 L123.16,63.62 L124.78,63.58 L126.41,63.54 L128.04,63.51 L129.67,63.50 L131.30,63.51 L132.93,63.56 L134.56,63.61 L136.19,63.64 L137.82,63.65 L139.45,63.63 L141.08,63.60 L142.71,63.55 L144.33,63.48 L145.96,63.41 L147.59,63.33 L149.22,63.24 L150.85,63.14 L152.48,62.99 L154.11,62.80 L155.74,62.56 L157.37,62.29 L159.00,61.99 L160.63,61.67 L162.25,61.29 L163.88,60.84 L165.51,60.33 L167.14,59.76 L168.77,59.15 L170.40,58.50 L170.40,64.80 L168.77,64.74 L167.14,64.68 L165.51,64.61 L163.88,64.55 L162.25,64.49 L160.63,64.42 L159.00,64.36 L157.37,64.29 L155.74,64.22 L154.11,64.15 L152.48,64.09 L150.85,64.03 L149.22,63.97 L147.59,63.92 L145.96,63.86 L144.33,63.80 L142.71,63.75 L141.08,63.70 L139.45,63.67 L137.82,63.65 L136.19,63.66 L134.56,63.71 L132.93,63.81 L131.30,63.92 L129.67,64.02 L128.04,64.14 L126.41,64.27 L124.78,64.41 L123.16,64.55 L121.53,64.69 L119.90,64.81 L118.27,64.92 L116.64,65.04 L115.01,65.15 L113.38,65.27 L111.75,65.37 L110.12,65.47 L108.49,65.56 L106.86,65.63 L105.24,65.69 L103.61,65.74 L101.98,65.79 L100.35,65.83 L98.72,65.86 L97.09,65.89 L95.46,65.90 L93.83,65.90 L92.20,65.89 L90.57,65.87 L88.94,65.85 L87.32,65.82 L85.69,65.77 L84.06,65.66 L82.43,65.49 L80.80,65.30 L79.17,65.09 L77.54,64.81 L75.91,64.48 L74.28,64.14 L72.65,63.81 L71.02,63.46 L69.39,63.11 L67.77,62.73 L66.14,62.35 L64.51,61.95 L62.88,61.53 L61.25,61.07 L59.62,60.55 L57.99,59.95 L56.36,59.32 L54.73,58.67 L53.10,58.03 L51.47,57.37 L49.85,56.70 L48.22,56.03 L46.59,55.36 L44.96,54.68 L43.33,53.99 L41.70,53.30Z" fill="url(#hatch)" stroke="none"/>
<path d="M36.8,23.5 V94.4 H175.6" fill="none" stroke="#333" stroke-width="0.8"/>
<path d="M36.8,91.76 h-3.4 M36.8,82.39 h-3.4 M36.8,73.02 h-3.4 M36.8,63.65 h-3.4 M36.8,54.28 h-3.4 M36.8,44.91 h-3.4 M36.8,35.54 h-3.4 M36.8,26.17 h-3.4 M59.9,94.4 v3.5 M90.1,94.4 v3.5 M120.3,94.4 v3.5 M150.5,94.4 v3.5" fill="none" stroke="#333" stroke-width="0.8"/>
<path d="M36.8,63.65 H175.6" fill="none" stroke="#333" stroke-width="0.8"/>
<path d="M41.70,46.10 L43.33,47.41 L44.96,48.66 L46.59,49.87 L48.22,51.02 L49.85,52.12 L51.47,53.17 L53.10,54.18 L54.73,55.15 L56.36,56.10 L57.99,57.01 L59.62,57.86 L61.25,58.66 L62.88,59.43 L64.51,60.16 L66.14,60.82 L67.77,61.39 L69.39,61.90 L71.02,62.36 L72.65,62.78 L74.28,63.15 L75.91,63.50 L77.54,63.82 L79.17,64.09 L80.80,64.30 L82.43,64.49 L84.06,64.66 L85.69,64.77 L87.32,64.82 L88.94,64.85 L90.57,64.87 L92.20,64.89 L93.83,64.90 L95.46,64.90 L97.09,64.89 L98.72,64.88 L100.35,64.87 L101.98,64.84 L103.61,64.82 L105.24,64.80 L106.86,64.76 L108.49,64.71 L110.12,64.65 L111.75,64.58 L113.38,64.51 L115.01,64.43 L116.64,64.35 L118.27,64.28 L119.90,64.20 L121.53,64.13 L123.16,64.05 L124.78,63.96 L126.41,63.88 L128.04,63.81 L129.67,63.76 L131.30,63.72 L132.93,63.70 L134.56,63.67 L136.19,63.66 L137.82,63.65 L139.45,63.64 L141.08,63.63 L142.71,63.63 L144.33,63.62 L145.96,63.62 L147.59,63.61 L149.22,63.61 L150.85,63.59 L152.48,63.55 L154.11,63.49 L155.74,63.42 L157.37,63.34 L159.00,63.25 L160.63,63.17 L162.25,63.07 L163.88,62.96 L165.51,62.83 L167.14,62.70 L168.77,62.55 L170.40,62.40" fill="none" stroke="#404040" stroke-width="1.15"/>
<text transform="translate(59.9,107.8) scale(0.92,1.1)" font-size="5.8" text-anchor="middle" stroke="#1c1c1c" stroke-width="0.15">10</text>
<text transform="translate(90.1,107.8) scale(0.92,1.1)" font-size="5.8" text-anchor="middle" stroke="#1c1c1c" stroke-width="0.15">15</text>
<text transform="translate(120.3,107.8) scale(0.92,1.1)" font-size="5.8" text-anchor="middle" stroke="#1c1c1c" stroke-width="0.15">20</text>
<text transform="translate(150.5,107.8) scale(0.92,1.1)" font-size="5.8" text-anchor="middle" stroke="#1c1c1c" stroke-width="0.15">25</text>
<text transform="translate(28.0,91.76) rotate(-90) scale(0.96,1.0)" font-size="5.8" text-anchor="middle" stroke="#1c1c1c" stroke-width="0.15">0.7</text>
<text transform="translate(28.0,73.02) rotate(-90) scale(0.96,1.0)" font-size="5.8" text-anchor="middle" stroke="#1c1c1c" stroke-width="0.15">0.9</text>
<text transform="translate(28.0,54.28) rotate(-90) scale(0.96,1.0)" font-size="5.8" text-anchor="middle" stroke="#1c1c1c" stroke-width="0.15">1.1</text>
<text transform="translate(28.0,35.54) rotate(-90) scale(0.96,1.0)" font-size="5.8" text-anchor="middle" stroke="#1c1c1c" stroke-width="0.15">1.3</text>
<text transform="translate(13.4,59.0) rotate(-90) scale(1,1.0)" font-size="5.8" text-anchor="middle" stroke="#1c1c1c" stroke-width="0.15">RR</text>
<text transform="translate(105.8,122.0) scale(1,1.0)" font-size="5.8" text-anchor="middle" stroke="#1c1c1c" stroke-width="0.15">temperature</text>
<text transform="translate(105,11.6) scale(1,1.05)" font-size="7.2" font-weight="bold" text-anchor="middle" fill="#111" stroke="#111" stroke-width="0.2">lag= 5 d</text>
</g>
<g transform="translate(0,276)">
<path d="M41.70,42.00 L43.33,43.60 L44.96,45.15 L46.59,46.64 L48.22,48.07 L49.85,49.46 L51.47,50.80 L53.10,52.08 L54.73,53.33 L56.36,54.55 L57.99,55.74 L59.62,56.84 L61.25,57.81 L62.88,58.70 L64.51,59.52 L66.14,60.26 L67.77,60.92 L69.39,61.53 L71.02,62.08 L72.65,62.56 L74.28,62.96 L75.91,63.32 L77.54,63.64 L79.17,63.90 L80.80,64.09 L82.43,64.25 L84.06,64.38 L85.69,64.47 L87.32,64.52 L88.94,64.56 L90.57,64.58 L92.20,64.60 L93.83,64.60 L95.46,64.59 L97.09,64.58 L98.72,64.57 L100.35,64.56 L101.98,64.54 L103.61,64.52 L105.24,64.50 L106.86,64.47 L108.49,64.44 L110.12,64.40 L111.75,64.36 L113.38,64.31 L115.01,64.26 L116.64,64.21 L118.27,64.16 L119.90,64.10 L121.53,64.04 L123.16,63.97 L124.78,63.88 L126.41,63.81 L128.04,63.74 L129.67,63.70 L131.30,63.69 L132.93,63.68 L134.56,63.67 L136.19,63.66 L137.82,63.62 L139.45,63.48 L141.08,63.27 L142.71,63.04 L144.33,62.81 L145.96,62.56 L147.59,62.28 L149.22,61.96 L150.85,61.61 L152.48,61.23 L154.11,60.79 L155.74,60.27 L157.37,59.65 L159.00,58.85 L160.63,57.92 L162.25,56.91 L163.88,55.86 L165.51,54.72 L167.14,53.50 L168.77,52.19 L170.40,50.80 L170.40,60.70 L168.77,61.05 L167.14,61.37 L165.51,61.65 L163.88,61.88 L162.25,62.07 L160.63,62.20 L159.00,62.32 L157.37,62.44 L155.74,62.56 L154.11,62.69 L152.48,62.81 L150.85,62.94 L149.22,63.06 L147.59,63.19 L145.96,63.32 L144.33,63.44 L142.71,63.51 L141.08,63.55 L139.45,63.58 L137.82,63.62 L136.19,63.69 L134.56,63.82 L132.93,63.98 L131.30,64.16 L129.67,64.33 L128.04,64.51 L126.41,64.69 L124.78,64.88 L123.16,65.06 L121.53,65.24 L119.90,65.41 L118.27,65.57 L116.64,65.74 L115.01,65.91 L113.38,66.08 L111.75,66.23 L110.12,66.38 L108.49,66.50 L106.86,66.61 L105.24,66.69 L103.61,66.75 L101.98,66.81 L100.35,66.87 L98.72,66.91 L97.09,66.95 L95.46,66.98 L93.83,67.00 L92.20,67.00 L90.57,66.96 L88.94,66.91 L87.32,66.84 L85.69,66.76 L84.06,66.63 L82.43,66.47 L80.80,66.29 L79.17,66.10 L77.54,65.87 L75.91,65.61 L74.28,65.32 L72.65,65.02 L71.02,64.68 L69.39,64.31 L67.77,63.93 L66.14,63.56 L64.51,63.18 L62.88,62.78 L61.25,62.35 L59.62,61.87 L57.99,61.33 L56.36,60.74 L54.73,60.15 L53.10,59.58 L51.47,58.99 L49.85,58.40 L48.22,57.81 L46.59,57.23 L44.96,56.65 L43.33,56.08 L41.70,55.50Z" fill="url(#hatch)" stroke="none"/>
<path d="M36.8,23.5 V94.4 H175.6" fill="none" stroke="#333" stroke-width="0.8"/>
<path d="M36.8,91.76 h-3.4 M36.8,82.39 h-3.4 M36.8,73.02 h-3.4 M36.8,63.65 h-3.4 M36.8,54.28 h-3.4 M36.8,44.91 h-3.4 M36.8,35.54 h-3.4 M36.8,26.17 h-3.4 M59.9,94.4 v3.5 M90.1,94.4 v3.5 M120.3,94.4 v3.5 M150.5,94.4 v3.5" fill="none" stroke="#333" stroke-width="0.8"/>
<path d="M36.8,63.65 H175.6" fill="none" stroke="#333" stroke-width="0.8"/>
<path d="M41.70,48.70 L43.33,49.90 L44.96,51.05 L46.59,52.15 L48.22,53.20 L49.85,54.19 L51.47,55.14 L53.10,56.05 L54.73,56.93 L56.36,57.79 L57.99,58.63 L59.62,59.41 L61.25,60.14 L62.88,60.83 L64.51,61.47 L66.14,62.06 L67.77,62.57 L69.39,63.02 L71.02,63.44 L72.65,63.81 L74.28,64.13 L75.91,64.44 L77.54,64.72 L79.17,64.95 L80.80,65.14 L82.43,65.30 L84.06,65.45 L85.69,65.56 L87.32,65.64 L88.94,65.71 L90.57,65.76 L92.20,65.80 L93.83,65.80 L95.46,65.79 L97.09,65.77 L98.72,65.74 L100.35,65.71 L101.98,65.67 L103.61,65.64 L105.24,65.59 L106.86,65.54 L108.49,65.46 L110.12,65.37 L111.75,65.27 L113.38,65.16 L115.01,65.05 L116.64,64.93 L118.27,64.82 L119.90,64.71 L121.53,64.60 L123.16,64.48 L124.78,64.36 L126.41,64.24 L128.04,64.12 L129.67,64.02 L131.30,63.93 L132.93,63.85 L134.56,63.77 L136.19,63.69 L137.82,63.61 L139.45,63.52 L141.08,63.43 L142.71,63.32 L144.33,63.18 L145.96,62.98 L147.59,62.75 L149.22,62.51 L150.85,62.28 L152.48,62.03 L154.11,61.76 L155.74,61.46 L157.37,61.10 L159.00,60.66 L160.63,60.17 L162.25,59.62 L163.88,59.05 L165.51,58.41 L167.14,57.73 L168.77,56.99 L170.40,56.20" fill="none" stroke="#404040" stroke-width="1.15"/>
<text transform="translate(59.9,107.8) scale(0.92,1.1)" font-size="5.8" text-anchor="middle" stroke="#1c1c1c" stroke-width="0.15">10</text>
<text transform="translate(90.1,107.8) scale(0.92,1.1)" font-size="5.8" text-anchor="middle" stroke="#1c1c1c" stroke-width="0.15">15</text>
<text transform="translate(120.3,107.8) scale(0.92,1.1)" font-size="5.8" text-anchor="middle" stroke="#1c1c1c" stroke-width="0.15">20</text>
<text transform="translate(150.5,107.8) scale(0.92,1.1)" font-size="5.8" text-anchor="middle" stroke="#1c1c1c" stroke-width="0.15">25</text>
<text transform="translate(28.0,91.76) rotate(-90) scale(0.96,1.0)" font-size="5.8" text-anchor="middle" stroke="#1c1c1c" stroke-width="0.15">0.7</text>
<text transform="translate(28.0,73.02) rotate(-90) scale(0.96,1.0)" font-size="5.8" text-anchor="middle" stroke="#1c1c1c" stroke-width="0.15">0.9</text>
<text transform="translate(28.0,54.28) rotate(-90) scale(0.96,1.0)" font-size="5.8" text-anchor="middle" stroke="#1c1c1c" stroke-width="0.15">1.1</text>
<text transform="translate(28.0,35.54) rotate(-90) scale(0.96,1.0)" font-size="5.8" text-anchor="middle" stroke="#1c1c1c" stroke-width="0.15">1.3</text>
<text transform="translate(13.4,59.0) rotate(-90) scale(1,1.0)" font-size="5.8" text-anchor="middle" stroke="#1c1c1c" stroke-width="0.15">RR</text>
<text transform="translate(105.8,122.0) scale(1,1.0)" font-size="5.8" text-anchor="middle" stroke="#1c1c1c" stroke-width="0.15">temperature</text>
<text transform="translate(105,11.6) scale(1,1.05)" font-size="7.2" font-weight="bold" text-anchor="middle" fill="#111" stroke="#111" stroke-width="0.2">lag= 6 d</text>
</g>
<g transform="translate(184,276)">
<path d="M41.70,43.90 L43.33,45.50 L44.96,47.05 L46.59,48.54 L48.22,49.98 L49.85,51.39 L51.47,52.76 L53.10,54.04 L54.73,55.19 L56.36,56.25 L57.99,57.23 L59.62,58.14 L61.25,58.98 L62.88,59.79 L64.51,60.55 L66.14,61.22 L67.77,61.79 L69.39,62.29 L71.02,62.73 L72.65,63.11 L74.28,63.42 L75.91,63.70 L77.54,63.93 L79.17,64.12 L80.80,64.27 L82.43,64.39 L84.06,64.50 L85.69,64.58 L87.32,64.62 L88.94,64.66 L90.57,64.68 L92.20,64.70 L93.83,64.70 L95.46,64.69 L97.09,64.69 L98.72,64.67 L100.35,64.66 L101.98,64.64 L103.61,64.62 L105.24,64.60 L106.86,64.57 L108.49,64.53 L110.12,64.48 L111.75,64.42 L113.38,64.36 L115.01,64.30 L116.64,64.23 L118.27,64.17 L119.90,64.10 L121.53,64.04 L123.16,63.96 L124.78,63.88 L126.41,63.80 L128.04,63.74 L129.67,63.70 L131.30,63.69 L132.93,63.68 L134.56,63.67 L136.19,63.66 L137.82,63.62 L139.45,63.45 L141.08,63.21 L142.71,62.94 L144.33,62.70 L145.96,62.44 L147.59,62.14 L149.22,61.79 L150.85,61.36 L152.48,60.81 L154.11,60.14 L155.74,59.38 L157.37,58.53 L159.00,57.49 L160.63,56.30 L162.25,55.02 L163.88,53.68 L165.51,52.22 L167.14,50.65 L168.77,48.98 L170.40,47.20 L170.40,58.10 L168.77,58.86 L167.14,59.56 L165.51,60.18 L163.88,60.72 L162.25,61.17 L160.63,61.55 L159.00,61.88 L157.37,62.16 L155.74,62.42 L154.11,62.65 L152.48,62.85 L150.85,63.03 L149.22,63.16 L147.59,63.27 L145.96,63.37 L144.33,63.45 L142.71,63.51 L141.08,63.55 L139.45,63.58 L137.82,63.62 L136.19,63.69 L134.56,63.82 L132.93,63.98 L131.30,64.16 L129.67,64.33 L128.04,64.50 L126.41,64.68 L124.78,64.86 L123.16,65.05 L121.53,65.23 L119.90,65.41 L118.27,65.60 L116.64,65.79 L115.01,65.99 L113.38,66.19 L111.75,66.38 L110.12,66.56 L108.49,66.73 L106.86,66.87 L105.24,66.99 L103.61,67.08 L101.98,67.18 L100.35,67.27 L98.72,67.35 L97.09,67.42 L95.46,67.47 L93.83,67.50 L92.20,67.50 L90.57,67.50 L88.94,67.50 L87.32,67.50 L85.69,67.49 L84.06,67.44 L82.43,67.36 L80.80,67.25 L79.17,67.14 L77.54,66.99 L75.91,66.80 L74.28,66.59 L72.65,66.36 L71.02,66.10 L69.39,65.80 L67.77,65.50 L66.14,65.21 L64.51,64.91 L62.88,64.61 L61.25,64.31 L59.62,63.98 L57.99,63.63 L56.36,63.29 L54.73,62.97 L53.10,62.71 L51.47,62.47 L49.85,62.25 L48.22,62.04 L46.59,61.84 L44.96,61.65 L43.33,61.47 L41.70,61.30Z" fill="url(#hatch)" stroke="none"/>
<path d="M36.8,23.5 V94.4 H175.6" fill="none" stroke="#333" stroke-width="0.8"/>
<path d="M36.8,91.76 h-3.4 M36.8,82.39 h-3.4 M36.8,73.02 h-3.4 M36.8,63.65 h-3.4 M36.8,54.28 h-3.4 M36.8,44.91 h-3.4 M36.8,35.54 h-3.4 M36.8,26.17 h-3.4 M59.9,94.4 v3.5 M90.1,94.4 v3.5 M120.3,94.4 v3.5 M150.5,94.4 v3.5" fill="none" stroke="#333" stroke-width="0.8"/>
<path d="M36.8,63.65 H175.6" fill="none" stroke="#333" stroke-width="0.8"/>
<path d="M41.70,53.00 L43.33,53.86 L44.96,54.71 L46.59,55.54 L48.22,56.36 L49.85,57.18 L51.47,58.00 L53.10,58.77 L54.73,59.48 L56.36,60.14 L57.99,60.76 L59.62,61.34 L61.25,61.88 L62.88,62.40 L64.51,62.89 L66.14,63.33 L67.77,63.73 L69.39,64.10 L71.02,64.44 L72.65,64.75 L74.28,65.00 L75.91,65.24 L77.54,65.45 L79.17,65.63 L80.80,65.77 L82.43,65.89 L84.06,66.00 L85.69,66.07 L87.32,66.12 L88.94,66.16 L90.57,66.18 L92.20,66.20 L93.83,66.20 L95.46,66.17 L97.09,66.11 L98.72,66.04 L100.35,65.96 L101.98,65.87 L103.61,65.77 L105.24,65.69 L106.86,65.60 L108.49,65.50 L110.12,65.40 L111.75,65.29 L113.38,65.17 L115.01,65.05 L116.64,64.94 L118.27,64.82 L119.90,64.71 L121.53,64.59 L123.16,64.47 L124.78,64.35 L126.41,64.23 L128.04,64.12 L129.67,64.02 L131.30,63.93 L132.93,63.85 L134.56,63.78 L136.19,63.70 L137.82,63.60 L139.45,63.49 L141.08,63.36 L142.71,63.23 L144.33,63.08 L145.96,62.92 L147.59,62.74 L149.22,62.52 L150.85,62.25 L152.48,61.88 L154.11,61.44 L155.74,60.94 L157.37,60.41 L159.00,59.83 L160.63,59.16 L162.25,58.42 L163.88,57.58 L165.51,56.60 L167.14,55.51 L168.77,54.30 L170.40,53.00" fill="none" stroke="#404040" stroke-width="1.15"/>
<text transform="translate(59.9,107.8) scale(0.92,1.1)" font-size="5.8" text-anchor="middle" stroke="#1c1c1c" stroke-width="0.15">10</text>
<text transform="translate(90.1,107.8) scale(0.92,1.1)" font-size="5.8" text-anchor="middle" stroke="#1c1c1c" stroke-width="0.15">15</text>
<text transform="translate(120.3,107.8) scale(0.92,1.1)" font-size="5.8" text-anchor="middle" stroke="#1c1c1c" stroke-width="0.15">20</text>
<text transform="translate(150.5,107.8) scale(0.92,1.1)" font-size="5.8" text-anchor="middle" stroke="#1c1c1c" stroke-width="0.15">25</text>
<text transform="translate(28.0,91.76) rotate(-90) scale(0.96,1.0)" font-size="5.8" text-anchor="middle" stroke="#1c1c1c" stroke-width="0.15">0.7</text>
<text transform="translate(28.0,73.02) rotate(-90) scale(0.96,1.0)" font-size="5.8" text-anchor="middle" stroke="#1c1c1c" stroke-width="0.15">0.9</text>
<text transform="translate(28.0,54.28) rotate(-90) scale(0.96,1.0)" font-size="5.8" text-anchor="middle" stroke="#1c1c1c" stroke-width="0.15">1.1</text>
<text transform="translate(28.0,35.54) rotate(-90) scale(0.96,1.0)" font-size="5.8" text-anchor="middle" stroke="#1c1c1c" stroke-width="0.15">1.3</text>
<text transform="translate(13.4,59.0) rotate(-90) scale(1,1.0)" font-size="5.8" text-anchor="middle" stroke="#1c1c1c" stroke-width="0.15">RR</text>
<text transform="translate(105.8,122.0) scale(1,1.0)" font-size="5.8" text-anchor="middle" stroke="#1c1c1c" stroke-width="0.15">temperature</text>
<text transform="translate(105,11.6) scale(1,1.05)" font-size="7.2" font-weight="bold" text-anchor="middle" fill="#111" stroke="#111" stroke-width="0.2">lag= 7 d</text>
</g>
<g transform="translate(368,276)">
<path d="M41.70,49.70 L43.33,50.99 L44.96,52.21 L46.59,53.35 L48.22,54.40 L49.85,55.37 L51.47,56.27 L53.10,57.12 L54.73,57.91 L56.36,58.67 L57.99,59.39 L59.62,60.04 L61.25,60.57 L62.88,61.01 L64.51,61.41 L66.14,61.77 L67.77,62.12 L69.39,62.47 L71.02,62.79 L72.65,63.07 L74.28,63.29 L75.91,63.48 L77.54,63.65 L79.17,63.77 L80.80,63.82 L82.43,63.86 L84.06,63.89 L85.69,63.91 L87.32,63.93 L88.94,63.95 L90.57,63.97 L92.20,63.99 L93.83,64.01 L95.46,64.05 L97.09,64.08 L98.72,64.12 L100.35,64.15 L101.98,64.18 L103.61,64.19 L105.24,64.20 L106.86,64.19 L108.49,64.17 L110.12,64.15 L111.75,64.11 L113.38,64.07 L115.01,64.03 L116.64,63.99 L118.27,63.94 L119.90,63.90 L121.53,63.85 L123.16,63.79 L124.78,63.73 L126.41,63.67 L128.04,63.62 L129.67,63.60 L131.30,63.61 L132.93,63.62 L134.56,63.64 L136.19,63.65 L137.82,63.58 L139.45,63.43 L141.08,63.24 L142.71,63.03 L144.33,62.84 L145.96,62.61 L147.59,62.36 L149.22,62.06 L150.85,61.71 L152.48,61.27 L154.11,60.74 L155.74,60.12 L157.37,59.38 L159.00,58.39 L160.63,57.22 L162.25,55.99 L163.88,54.75 L165.51,53.44 L167.14,52.07 L168.77,50.62 L170.40,49.10 L170.40,58.70 L168.77,59.41 L167.14,60.06 L165.51,60.64 L163.88,61.14 L162.25,61.55 L160.63,61.91 L159.00,62.22 L157.37,62.48 L155.74,62.69 L154.11,62.87 L152.48,63.02 L150.85,63.15 L149.22,63.24 L147.59,63.33 L145.96,63.40 L144.33,63.46 L142.71,63.51 L141.08,63.54 L139.45,63.57 L137.82,63.60 L136.19,63.64 L134.56,63.74 L132.93,63.89 L131.30,64.07 L129.67,64.23 L128.04,64.38 L126.41,64.53 L124.78,64.67 L123.16,64.82 L121.53,64.96 L119.90,65.11 L118.27,65.26 L116.64,65.42 L115.01,65.58 L113.38,65.74 L111.75,65.90 L110.12,66.05 L108.49,66.18 L106.86,66.29 L105.24,66.39 L103.61,66.47 L101.98,66.54 L100.35,66.62 L98.72,66.68 L97.09,66.74 L95.46,66.78 L93.83,66.80 L92.20,66.80 L90.57,66.80 L88.94,66.80 L87.32,66.80 L85.69,66.80 L84.06,66.80 L82.43,66.80 L80.80,66.80 L79.17,66.79 L77.54,66.74 L75.91,66.64 L74.28,66.54 L72.65,66.44 L71.02,66.33 L69.39,66.20 L67.77,66.05 L66.14,65.89 L64.51,65.68 L62.88,65.47 L61.25,65.26 L59.62,65.08 L57.99,64.89 L56.36,64.72 L54.73,64.62 L53.10,64.57 L51.47,64.54 L49.85,64.51 L48.22,64.50 L46.59,64.50 L44.96,64.50 L43.33,64.50 L41.70,64.50Z" fill="url(#hatch)" stroke="none"/>
<path d="M36.8,23.5 V94.4 H175.6" fill="none" stroke="#333" stroke-width="0.8"/>
<path d="M36.8,91.76 h-3.4 M36.8,82.39 h-3.4 M36.8,73.02 h-3.4 M36.8,63.65 h-3.4 M36.8,54.28 h-3.4 M36.8,44.91 h-3.4 M36.8,35.54 h-3.4 M36.8,26.17 h-3.4 M59.9,94.4 v3.5 M90.1,94.4 v3.5 M120.3,94.4 v3.5 M150.5,94.4 v3.5" fill="none" stroke="#333" stroke-width="0.8"/>
<path d="M36.8,63.65 H175.6" fill="none" stroke="#333" stroke-width="0.8"/>
<path d="M41.70,57.20 L43.33,57.81 L44.96,58.40 L46.59,58.97 L48.22,59.50 L49.85,60.01 L51.47,60.50 L53.10,60.97 L54.73,61.42 L56.36,61.86 L57.99,62.28 L59.62,62.67 L61.25,63.01 L62.88,63.31 L64.51,63.59 L66.14,63.84 L67.77,64.08 L69.39,64.31 L71.02,64.53 L72.65,64.71 L74.28,64.86 L75.91,64.99 L77.54,65.10 L79.17,65.18 L80.80,65.21 L82.43,65.23 L84.06,65.25 L85.69,65.27 L87.32,65.28 L88.94,65.29 L90.57,65.30 L92.20,65.30 L93.83,65.30 L95.46,65.29 L97.09,65.29 L98.72,65.27 L100.35,65.26 L101.98,65.24 L103.61,65.22 L105.24,65.20 L106.86,65.16 L108.49,65.11 L110.12,65.04 L111.75,64.96 L113.38,64.88 L115.01,64.78 L116.64,64.69 L118.27,64.60 L119.90,64.51 L121.53,64.41 L123.16,64.31 L124.78,64.21 L126.41,64.10 L128.04,64.00 L129.67,63.92 L131.30,63.84 L132.93,63.78 L134.56,63.71 L136.19,63.64 L137.82,63.57 L139.45,63.50 L141.08,63.41 L142.71,63.32 L144.33,63.20 L145.96,63.06 L147.59,62.89 L149.22,62.70 L150.85,62.48 L152.48,62.21 L154.11,61.88 L155.74,61.50 L157.37,61.04 L159.00,60.45 L160.63,59.76 L162.25,59.00 L163.88,58.23 L165.51,57.39 L167.14,56.48 L168.77,55.52 L170.40,54.50" fill="none" stroke="#404040" stroke-width="1.15"/>
<text transform="translate(59.9,107.8) scale(0.92,1.1)" font-size="5.8" text-anchor="middle" stroke="#1c1c1c" stroke-width="0.15">10</text>
<text transform="translate(90.1,107.8) scale(0.92,1.1)" font-size="5.8" text-anchor="middle" stroke="#1c1c1c" stroke-width="0.15">15</text>
<text transform="translate(120.3,107.8) scale(0.92,1.1)" font-size="5.8" text-anchor="middle" stroke="#1c1c1c" stroke-width="0.15">20</text>
<text transform="translate(150.5,107.8) scale(0.92,1.1)" font-size="5.8" text-anchor="middle" stroke="#1c1c1c" stroke-width="0.15">25</text>
<text transform="translate(28.0,91.76) rotate(-90) scale(0.96,1.0)" font-size="5.8" text-anchor="middle" stroke="#1c1c1c" stroke-width="0.15">0.7</text>
<text transform="translate(28.0,73.02) rotate(-90) scale(0.96,1.0)" font-size="5.8" text-anchor="middle" stroke="#1c1c1c" stroke-width="0.15">0.9</text>
<text transform="translate(28.0,54.28) rotate(-90) scale(0.96,1.0)" font-size="5.8" text-anchor="middle" stroke="#1c1c1c" stroke-width="0.15">1.1</text>
<text transform="translate(28.0,35.54) rotate(-90) scale(0.96,1.0)" font-size="5.8" text-anchor="middle" stroke="#1c1c1c" stroke-width="0.15">1.3</text>
<text transform="translate(13.4,59.0) rotate(-90) scale(1,1.0)" font-size="5.8" text-anchor="middle" stroke="#1c1c1c" stroke-width="0.15">RR</text>
<text transform="translate(105.8,122.0) scale(1,1.0)" font-size="5.8" text-anchor="middle" stroke="#1c1c1c" stroke-width="0.15">temperature</text>
<text transform="translate(105,11.6) scale(1,1.05)" font-size="7.2" font-weight="bold" text-anchor="middle" fill="#111" stroke="#111" stroke-width="0.2">lag= 8 d</text>
</g>
<g transform="translate(0,414)">
<path d="M41.70,53.60 L43.33,54.55 L44.96,55.43 L46.59,56.23 L48.22,56.93 L49.85,57.54 L51.47,58.10 L53.10,58.62 L54.73,59.14 L56.36,59.67 L57.99,60.18 L59.62,60.64 L61.25,61.02 L62.88,61.35 L64.51,61.64 L66.14,61.88 L67.77,62.05 L69.39,62.20 L71.02,62.33 L72.65,62.45 L74.28,62.55 L75.91,62.64 L77.54,62.72 L79.17,62.78 L80.80,62.82 L82.43,62.86 L84.06,62.90 L85.69,62.93 L87.32,62.96 L88.94,62.99 L90.57,63.02 L92.20,63.04 L93.83,63.07 L95.46,63.09 L97.09,63.11 L98.72,63.13 L100.35,63.15 L101.98,63.16 L103.61,63.18 L105.24,63.20 L106.86,63.22 L108.49,63.24 L110.12,63.25 L111.75,63.27 L113.38,63.28 L115.01,63.30 L116.64,63.31 L118.27,63.32 L119.90,63.34 L121.53,63.36 L123.16,63.38 L124.78,63.40 L126.41,63.42 L128.04,63.46 L129.67,63.50 L131.30,63.54 L132.93,63.58 L134.56,63.61 L136.19,63.64 L137.82,63.66 L139.45,63.67 L141.08,63.68 L142.71,63.69 L144.33,63.70 L145.96,63.70 L147.59,63.69 L149.22,63.66 L150.85,63.63 L152.48,63.58 L154.11,63.53 L155.74,63.46 L157.37,63.27 L159.00,62.98 L160.63,62.62 L162.25,62.20 L163.88,61.73 L165.51,61.11 L167.14,60.34 L168.77,59.46 L170.40,58.50 L170.40,67.00 L168.77,66.77 L167.14,66.54 L165.51,66.32 L163.88,66.11 L162.25,65.91 L160.63,65.71 L159.00,65.52 L157.37,65.34 L155.74,65.17 L154.11,65.02 L152.48,64.88 L150.85,64.75 L149.22,64.62 L147.59,64.50 L145.96,64.38 L144.33,64.24 L142.71,64.08 L141.08,63.90 L139.45,63.75 L137.82,63.66 L136.19,63.65 L134.56,63.67 L132.93,63.70 L131.30,63.74 L129.67,63.79 L128.04,63.83 L126.41,63.87 L124.78,63.90 L123.16,63.93 L121.53,63.96 L119.90,63.98 L118.27,64.01 L116.64,64.03 L115.01,64.06 L113.38,64.08 L111.75,64.10 L110.12,64.12 L108.49,64.15 L106.86,64.17 L105.24,64.20 L103.61,64.22 L101.98,64.25 L100.35,64.27 L98.72,64.30 L97.09,64.32 L95.46,64.35 L93.83,64.38 L92.20,64.40 L90.57,64.43 L88.94,64.46 L87.32,64.48 L85.69,64.51 L84.06,64.54 L82.43,64.56 L80.80,64.59 L79.17,64.61 L77.54,64.64 L75.91,64.66 L74.28,64.68 L72.65,64.70 L71.02,64.73 L69.39,64.76 L67.77,64.79 L66.14,64.82 L64.51,64.87 L62.88,64.92 L61.25,64.98 L59.62,65.06 L57.99,65.16 L56.36,65.30 L54.73,65.46 L53.10,65.64 L51.47,65.88 L49.85,66.15 L48.22,66.44 L46.59,66.74 L44.96,67.07 L43.33,67.43 L41.70,67.80Z" fill="url(#hatch)" stroke="none"/>
<path d="M36.8,23.5 V94.4 H175.6" fill="none" stroke="#333" stroke-width="0.8"/>
<path d="M36.8,91.76 h-3.4 M36.8,82.39 h-3.4 M36.8,73.02 h-3.4 M36.8,63.65 h-3.4 M36.8,54.28 h-3.4 M36.8,44.91 h-3.4 M36.8,35.54 h-3.4 M36.8,26.17 h-3.4 M59.9,94.4 v3.5 M90.1,94.4 v3.5 M120.3,94.4 v3.5 M150.5,94.4 v3.5" fill="none" stroke="#333" stroke-width="0.8"/>
<path d="M36.8,63.65 H175.6" fill="none" stroke="#333" stroke-width="0.8"/>
<path d="M41.70,61.10 L43.33,61.37 L44.96,61.62 L46.59,61.84 L48.22,62.04 L49.85,62.21 L51.47,62.36 L53.10,62.50 L54.73,62.64 L56.36,62.77 L57.99,62.90 L59.62,63.02 L61.25,63.14 L62.88,63.26 L64.51,63.37 L66.14,63.46 L67.77,63.51 L69.39,63.56 L71.02,63.59 L72.65,63.63 L74.28,63.65 L75.91,63.68 L77.54,63.69 L79.17,63.70 L80.80,63.70 L82.43,63.70 L84.06,63.70 L85.69,63.70 L87.32,63.70 L88.94,63.70 L90.57,63.70 L92.20,63.70 L93.83,63.70 L95.46,63.70 L97.09,63.70 L98.72,63.70 L100.35,63.70 L101.98,63.70 L103.61,63.70 L105.24,63.70 L106.86,63.70 L108.49,63.70 L110.12,63.69 L111.75,63.69 L113.38,63.68 L115.01,63.67 L116.64,63.67 L118.27,63.66 L119.90,63.66 L121.53,63.65 L123.16,63.65 L124.78,63.65 L126.41,63.65 L128.04,63.65 L129.67,63.65 L131.30,63.65 L132.93,63.65 L134.56,63.65 L136.19,63.65 L137.82,63.66 L139.45,63.71 L141.08,63.79 L142.71,63.89 L144.33,63.97 L145.96,64.04 L147.59,64.10 L149.22,64.17 L150.85,64.22 L152.48,64.27 L154.11,64.30 L155.74,64.30 L157.37,64.30 L159.00,64.30 L160.63,64.30 L162.25,64.30 L163.88,64.29 L165.51,64.25 L167.14,64.18 L168.77,64.10 L170.40,64.00" fill="none" stroke="#404040" stroke-width="1.15"/>
<text transform="translate(59.9,107.8) scale(0.92,1.1)" font-size="5.8" text-anchor="middle" stroke="#1c1c1c" stroke-width="0.15">10</text>
<text transform="translate(90.1,107.8) scale(0.92,1.1)" font-size="5.8" text-anchor="middle" stroke="#1c1c1c" stroke-width="0.15">15</text>
<text transform="translate(120.3,107.8) scale(0.92,1.1)" font-size="5.8" text-anchor="middle" stroke="#1c1c1c" stroke-width="0.15">20</text>
<text transform="translate(150.5,107.8) scale(0.92,1.1)" font-size="5.8" text-anchor="middle" stroke="#1c1c1c" stroke-width="0.15">25</text>
<text transform="translate(28.0,91.76) rotate(-90) scale(0.96,1.0)" font-size="5.8" text-anchor="middle" stroke="#1c1c1c" stroke-width="0.15">0.7</text>
<text transform="translate(28.0,73.02) rotate(-90) scale(0.96,1.0)" font-size="5.8" text-anchor="middle" stroke="#1c1c1c" stroke-width="0.15">0.9</text>
<text transform="translate(28.0,54.28) rotate(-90) scale(0.96,1.0)" font-size="5.8" text-anchor="middle" stroke="#1c1c1c" stroke-width="0.15">1.1</text>
<text transform="translate(28.0,35.54) rotate(-90) scale(0.96,1.0)" font-size="5.8" text-anchor="middle" stroke="#1c1c1c" stroke-width="0.15">1.3</text>
<text transform="translate(13.4,59.0) rotate(-90) scale(1,1.0)" font-size="5.8" text-anchor="middle" stroke="#1c1c1c" stroke-width="0.15">RR</text>
<text transform="translate(105.8,122.0) scale(1,1.0)" font-size="5.8" text-anchor="middle" stroke="#1c1c1c" stroke-width="0.15">temperature</text>
<text transform="translate(105,11.6) scale(1,1.05)" font-size="7.2" font-weight="bold" text-anchor="middle" fill="#111" stroke="#111" stroke-width="0.2">lag= 9 d</text>
</g>
</svg>
</body></html>
